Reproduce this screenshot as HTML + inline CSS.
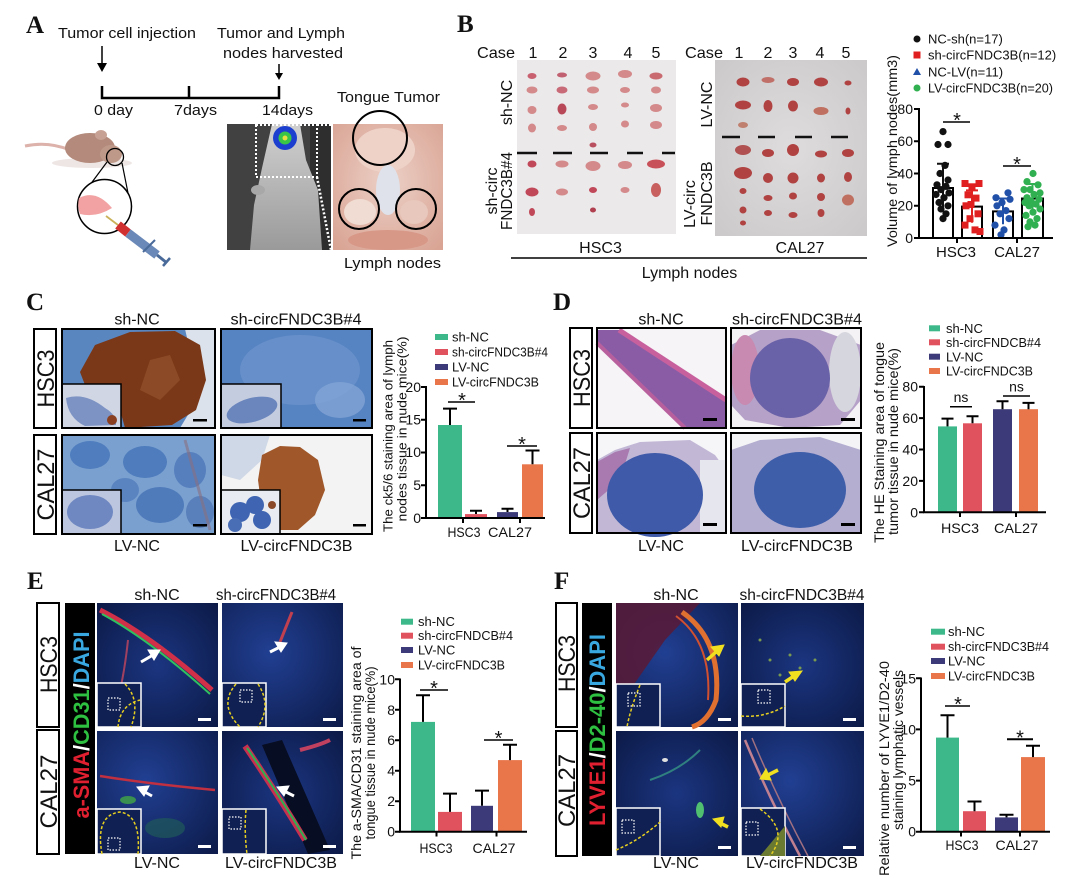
<!DOCTYPE html>
<html><head><meta charset="utf-8">
<style>
html,body{margin:0;padding:0;background:#fff;}
svg{display:block;}
text{font-family:"Liberation Sans",Arial,sans-serif;fill:#111;}
.pl{font-family:"Liberation Serif","Times New Roman",serif;font-weight:bold;font-size:25px;}
</style></head><body>
<svg width="1080" height="880" viewBox="0 0 1080 880" xmlns="http://www.w3.org/2000/svg">
<defs>
<radialGradient id="nv" cx="50%" cy="50%" r="75%"><stop offset="0" stop-color="#1b3580"/><stop offset="1" stop-color="#0b1843"/></radialGradient>
<radialGradient id="nv2" cx="40%" cy="40%" r="80%"><stop offset="0" stop-color="#213f92"/><stop offset="1" stop-color="#0d1c4c"/></radialGradient>
<linearGradient id="ivis" x1="0" y1="0" x2="0" y2="1"><stop offset="0" stop-color="#d0d0d0"/><stop offset="1" stop-color="#9a9a9a"/></linearGradient>
<radialGradient id="cal" cx="50%" cy="50%" r="70%"><stop offset="0" stop-color="#dedcdc"/><stop offset="1" stop-color="#cbc9c9"/></radialGradient>
<radialGradient id="dis" cx="50%" cy="45%" r="70%"><stop offset="0" stop-color="#ecd0c6"/><stop offset="1" stop-color="#d9a494"/></radialGradient>
</defs>

<!-- ================= A ================= -->
<text class="pl" x="26" y="33">A</text>
<text x="58" y="38" font-size="15" textLength="138" lengthAdjust="spacingAndGlyphs">Tumor cell injection</text>
<text x="217" y="38" font-size="15" textLength="128" lengthAdjust="spacingAndGlyphs">Tumor and Lymph</text>
<text x="223" y="58" font-size="15" textLength="120" lengthAdjust="spacingAndGlyphs">nodes harvested</text>
<line x1="102" y1="46" x2="102" y2="64" stroke="#000" stroke-width="1.5"/>
<polygon points="97,63 107,63 102,72" fill="#000"/>
<line x1="279" y1="64" x2="279" y2="74" stroke="#000" stroke-width="1.5"/>
<polygon points="275,73 283,73 279,80" fill="#000"/>
<path d="M102,86 V98 H279 V86 M189,98 V86" fill="none" stroke="#000" stroke-width="2.5"/>
<text x="94" y="115" font-size="15" textLength="39" lengthAdjust="spacingAndGlyphs">0 day</text>
<text x="174" y="115" font-size="15" textLength="43" lengthAdjust="spacingAndGlyphs">7days</text>
<text x="262" y="115" font-size="15" textLength="51" lengthAdjust="spacingAndGlyphs">14days</text>
<text x="337" y="102" font-size="15" textLength="103" lengthAdjust="spacingAndGlyphs">Tongue Tumor</text>
<text x="344" y="268" font-size="15" textLength="97" lengthAdjust="spacingAndGlyphs">Lymph nodes</text>

<!-- mouse -->
<ellipse cx="92" cy="163" rx="40" ry="5" fill="#eee6e4"/>
<path d="M70,150 Q48,141 25,146" fill="none" stroke="#dcb2aa" stroke-width="3"/>
<ellipse cx="90" cy="148" rx="25" ry="15" fill="#b38a7b"/>
<ellipse cx="111" cy="154" rx="11" ry="9" fill="#be9888"/>
<ellipse cx="101" cy="135" rx="6" ry="5" fill="#c7a294"/>
<circle cx="115" cy="157" r="8.5" fill="none" stroke="#000" stroke-width="1.3"/>
<line x1="107" y1="162" x2="81" y2="197" stroke="#000" stroke-width="1.2"/>
<line x1="122" y1="163" x2="129" y2="198" stroke="#000" stroke-width="1.2"/>
<circle cx="104.5" cy="206.5" r="27" fill="#fff" stroke="#000" stroke-width="1.5"/>
<path d="M79,198 Q96,189 112,208 Q96,218 80,214 Q77,206 79,198Z" fill="#f2a2a2"/>
<line x1="106" y1="216" x2="118" y2="225" stroke="#c9b25a" stroke-width="1.8"/>
<line x1="118" y1="225" x2="128" y2="233" stroke="#d03030" stroke-width="9"/>
<line x1="128" y1="233" x2="157" y2="255" stroke="#6a88b8" stroke-width="9"/>
<line x1="143" y1="252" x2="155" y2="240" stroke="#4a6a9a" stroke-width="2"/>
<line x1="157" y1="255" x2="167" y2="263" stroke="#4a6a9a" stroke-width="3"/>
<line x1="163" y1="266" x2="170" y2="258" stroke="#4a6a9a" stroke-width="2.5"/>

<!-- IVIS -->
<rect x="227" y="124" width="104" height="126" fill="#414141"/>
<rect x="310" y="124" width="21" height="126" fill="#2e2e2e"/>
<polygon points="272,124 300,124 306,160 318,190 322,250 250,250 254,205 262,168" fill="url(#ivis)"/>
<ellipse cx="258" cy="190" rx="7" ry="5" fill="#a8a8a8"/>
<circle cx="285" cy="138" r="12" fill="#1d3fd0"/>
<circle cx="285" cy="138" r="6.5" fill="#38c548"/>
<circle cx="285" cy="138" r="2.5" fill="#e8e040"/>
<rect x="256" y="125" width="61" height="52" fill="none" stroke="#fff" stroke-width="2" stroke-dasharray="2,2"/>
<line x1="317" y1="125" x2="332" y2="125" stroke="#fff" stroke-width="2" stroke-dasharray="2,2"/>
<line x1="317" y1="177" x2="331" y2="250" stroke="#fff" stroke-width="2.5" stroke-dasharray="2,2"/>

<!-- dissection -->
<rect x="333" y="124" width="110" height="126" fill="url(#dis)"/>
<ellipse cx="385" cy="150" rx="30" ry="22" fill="#eed2c8"/>
<ellipse cx="388" cy="190" rx="12" ry="25" fill="#dfe2ea"/>
<ellipse cx="360" cy="212" rx="16" ry="13" fill="#f0dcd2"/>
<ellipse cx="414" cy="212" rx="14" ry="12" fill="#e8c8bc"/>
<ellipse cx="388" cy="240" rx="40" ry="10" fill="#d89888"/>
<circle cx="380" cy="138" r="27" fill="none" stroke="#000" stroke-width="2"/>
<circle cx="359" cy="209" r="20" fill="none" stroke="#000" stroke-width="2"/>
<circle cx="416" cy="209" r="20" fill="none" stroke="#000" stroke-width="2"/>

<!-- ================= B ================= -->
<text class="pl" x="457" y="32">B</text>
<text x="477" y="58" font-size="16" textLength="38" lengthAdjust="spacingAndGlyphs">Case</text>
<g font-size="16" text-anchor="middle">
<text x="533" y="58">1</text><text x="563" y="58">2</text><text x="593" y="58">3</text><text x="628" y="58">4</text><text x="656" y="58">5</text>
<text x="739" y="58">1</text><text x="768" y="58">2</text><text x="793" y="58">3</text><text x="820" y="58">4</text><text x="846" y="58">5</text>
</g>
<text x="685" y="58" font-size="16" textLength="38" lengthAdjust="spacingAndGlyphs">Case</text>
<rect x="517" y="60" width="159" height="174" fill="#ebe9ea"/>
<rect x="715" y="60" width="152" height="176" fill="url(#cal)"/>
<g fill="#d4898a">
<ellipse cx="532" cy="76" rx="4.5" ry="3" fill="#c86070"/><ellipse cx="532" cy="90" rx="5.5" ry="3.5"/><ellipse cx="532" cy="110" rx="4.5" ry="4"/><ellipse cx="532" cy="128" rx="4" ry="4.5"/>
<ellipse cx="562" cy="75" rx="5" ry="2.5" fill="#c06070"/><ellipse cx="562" cy="90" rx="5.5" ry="3.5" fill="#c86a78"/><ellipse cx="562" cy="109" rx="4.5" ry="5.5" fill="#b84858"/><ellipse cx="562" cy="128" rx="5" ry="3"/>
<ellipse cx="593" cy="76" rx="7.5" ry="4.5"/><ellipse cx="593" cy="90" rx="6" ry="3.5"/><ellipse cx="593" cy="107" rx="5" ry="3"/><ellipse cx="593" cy="127" rx="4" ry="4"/><ellipse cx="593" cy="145" rx="3.5" ry="2.5" fill="#b85060"/>
<ellipse cx="625" cy="74" rx="7" ry="4"/><ellipse cx="625" cy="90" rx="5" ry="3"/><ellipse cx="625" cy="105" rx="4" ry="2.5"/><ellipse cx="625" cy="124" rx="4" ry="3.5"/>
<ellipse cx="656" cy="76" rx="6.5" ry="3.5" fill="#c86a70"/><ellipse cx="656" cy="90" rx="5" ry="3.5"/><ellipse cx="656" cy="108" rx="6" ry="4"/><ellipse cx="656" cy="125" rx="6" ry="4"/>
<ellipse cx="532" cy="164" rx="4.5" ry="3.5" fill="#c04858"/><ellipse cx="532" cy="192" rx="6.5" ry="4.5" fill="#c04858"/><ellipse cx="532" cy="212" rx="3" ry="4" fill="#c04858"/>
<ellipse cx="562" cy="164" rx="6.5" ry="3.5"/><ellipse cx="562" cy="192" rx="6" ry="3.5"/>
<ellipse cx="593" cy="166" rx="7.5" ry="5"/><ellipse cx="593" cy="190" rx="4" ry="3" fill="#c04858"/><ellipse cx="593" cy="210" rx="3" ry="2.5" fill="#b04050"/>
<ellipse cx="625" cy="165" rx="7" ry="4"/><ellipse cx="625" cy="190" rx="4.5" ry="3"/>
<ellipse cx="656" cy="164" rx="9" ry="4.5" fill="#c85058"/><ellipse cx="656" cy="190" rx="5" ry="7" fill="#c86060"/>
</g>
<g fill="#b04242">
<ellipse cx="743" cy="82" rx="6.5" ry="4.5"/><ellipse cx="743" cy="105" rx="8" ry="4.5"/><ellipse cx="743" cy="125" rx="5" ry="3" fill="#c08070"/>
<ellipse cx="768" cy="80" rx="6.5" ry="3" fill="#c07068"/><ellipse cx="768" cy="106" rx="4.5" ry="6"/>
<ellipse cx="793" cy="82" rx="6" ry="4"/><ellipse cx="793" cy="106" rx="5" ry="5.5"/>
<ellipse cx="821" cy="82" rx="7" ry="4.5"/><ellipse cx="821" cy="111" rx="7.5" ry="4" fill="#c07060"/>
<ellipse cx="848" cy="83" rx="3.5" ry="2.5"/><ellipse cx="848" cy="111" rx="2.5" ry="3.5"/>
<ellipse cx="743" cy="150" rx="8" ry="5" fill="#b05050"/><ellipse cx="743" cy="173" rx="9" ry="6"/><ellipse cx="743" cy="191" rx="3.5" ry="3"/><ellipse cx="743" cy="210" rx="3.5" ry="3.5"/><ellipse cx="743" cy="223" rx="3" ry="2.5"/>
<ellipse cx="768" cy="153" rx="6" ry="4"/><ellipse cx="768" cy="178" rx="5" ry="5"/><ellipse cx="768" cy="198" rx="4.5" ry="3"/><ellipse cx="768" cy="213" rx="4" ry="3"/>
<ellipse cx="793" cy="150" rx="6" ry="6"/><ellipse cx="793" cy="178" rx="5.5" ry="5.5"/><ellipse cx="793" cy="196" rx="4" ry="3.5"/><ellipse cx="793" cy="215" rx="4.5" ry="3"/>
<ellipse cx="821" cy="154" rx="6" ry="3.5"/><ellipse cx="821" cy="178" rx="4" ry="4.5"/><ellipse cx="821" cy="197" rx="4" ry="4"/><ellipse cx="821" cy="213" rx="3.5" ry="4"/>
<ellipse cx="848" cy="153" rx="6" ry="4"/><ellipse cx="848" cy="177" rx="4" ry="5"/><ellipse cx="848" cy="200" rx="6" ry="5.5" fill="#c07060"/>
</g>
<g stroke="#111" stroke-width="2.5">
<line x1="517" y1="153" x2="537" y2="153"/><line x1="553" y1="153" x2="572" y2="153"/><line x1="590" y1="153" x2="608" y2="153"/><line x1="627" y1="153" x2="643" y2="153"/><line x1="662" y1="153" x2="675" y2="153"/>
<line x1="722" y1="137" x2="740" y2="137"/><line x1="758" y1="137" x2="775" y2="137"/><line x1="795" y1="137" x2="812" y2="137"/><line x1="831" y1="137" x2="848" y2="137"/>
</g>
<g font-size="16" text-anchor="middle">
<text transform="translate(512,102.5) rotate(-90)">sh-NC</text>
<text transform="translate(497,191) rotate(-90)">sh-circ</text>
<text transform="translate(512,191) rotate(-90)" textLength="78" lengthAdjust="spacingAndGlyphs">FNDC3B#4</text>
<text transform="translate(712,104.5) rotate(-90)">LV-NC</text>
<text transform="translate(695,204) rotate(-90)">LV-circ</text>
<text transform="translate(712,193.5) rotate(-90)">FNDC3B</text>
<text x="600.5" y="253">HSC3</text>
<text x="800" y="253">CAL27</text>
<text x="689.5" y="278">Lymph nodes</text>
</g>
<line x1="511" y1="258" x2="867" y2="258" stroke="#000" stroke-width="1.5"/>

<!-- B chart -->
<g font-size="13">
<circle cx="917" cy="39" r="3.5" fill="#111"/><text x="928" y="43.5">NC-sh(n=17)</text>
<rect x="913.5" y="51.5" width="7" height="7" fill="#e02020"/><text x="928" y="59.5">sh-circFNDC3B(n=12)</text>
<polygon points="917,68 921,75 913,75" fill="#2050a8"/><text x="928" y="76.5">NC-LV(n=11)</text>
<circle cx="917" cy="88" r="3.5" fill="#30b050"/><text x="928" y="92.5" textLength="125" lengthAdjust="spacingAndGlyphs">LV-circFNDC3B(n=20)</text>
</g>
<text transform="translate(897,151) rotate(-90)" font-size="14" text-anchor="middle" textLength="192" lengthAdjust="spacingAndGlyphs">Volume of lymph nodes(mm3)</text>
<g font-size="14" text-anchor="end">
<text x="913" y="114">80</text><text x="913" y="146">60</text><text x="913" y="178.5">40</text><text x="913" y="210.5">20</text><text x="913" y="243">0</text>
</g>
<g fill="#fff" stroke="#000" stroke-width="2">
<rect x="933" y="188" width="20" height="50"/>
<rect x="962" y="206.6" width="20" height="31.4"/>
<rect x="993" y="211.4" width="20" height="26.6"/>
<rect x="1022" y="198.5" width="21" height="39.5"/>
</g>
<g fill="#111">
<circle cx="943" cy="131.6" r="3.6"/><circle cx="938" cy="144.5" r="3.6"/><circle cx="948" cy="144.5" r="3.6"/><circle cx="945" cy="165.4" r="3.6"/><circle cx="940" cy="173.5" r="3.6"/><circle cx="948" cy="180" r="3.6"/><circle cx="937" cy="184.8" r="3.6"/><circle cx="946" cy="186.4" r="3.6"/><circle cx="941" cy="189.6" r="3.6"/><circle cx="949" cy="192.9" r="3.6"/><circle cx="936" cy="194.5" r="3.6"/><circle cx="944" cy="197.7" r="3.6"/><circle cx="939" cy="202.5" r="3.6"/><circle cx="948" cy="205.8" r="3.6"/><circle cx="941" cy="209" r="3.6"/><circle cx="946" cy="213.8" r="3.6"/><circle cx="943" cy="218.6" r="3.6"/>
</g>
<g fill="#e02020">
<rect x="961.5" y="180" width="7" height="7"/><rect x="975.5" y="180" width="7" height="7"/><rect x="968.5" y="183.3" width="7" height="7"/><rect x="964.5" y="191.3" width="7" height="7"/><rect x="972.5" y="194.6" width="7" height="7"/><rect x="967.5" y="201" width="7" height="7"/><rect x="962.5" y="202.3" width="7" height="7"/><rect x="974.5" y="210.3" width="7" height="7"/><rect x="966.5" y="215.2" width="7" height="7"/><rect x="961.5" y="221.6" width="7" height="7"/><rect x="971.5" y="226.4" width="7" height="7"/><rect x="976.5" y="228" width="7" height="7"/>
</g>
<g fill="#2050a8">
<circle cx="1008" cy="192.8" r="3.6"/><circle cx="996" cy="197.7" r="3.6"/><circle cx="1010" cy="199.3" r="3.6"/><circle cx="1002" cy="202.5" r="3.6"/><circle cx="997" cy="205.8" r="3.6"/><circle cx="1006" cy="210.6" r="3.6"/><circle cx="1000" cy="213.8" r="3.6"/><circle cx="1009" cy="218.6" r="3.6"/><circle cx="995" cy="225.1" r="3.6"/><circle cx="1004" cy="229.9" r="3.6"/><circle cx="1001" cy="234.8" r="3.6"/>
</g>
<g fill="#30b050">
<circle cx="1033" cy="173.5" r="3.6"/><circle cx="1027" cy="181.6" r="3.6"/><circle cx="1038" cy="184.8" r="3.6"/><circle cx="1030" cy="189.6" r="3.6"/><circle cx="1024" cy="189.6" r="3.6"/><circle cx="1040" cy="192.9" r="3.6"/><circle cx="1034" cy="194.5" r="3.6"/><circle cx="1027" cy="197.7" r="3.6"/><circle cx="1039" cy="199.3" r="3.6"/><circle cx="1031" cy="200.9" r="3.6"/><circle cx="1025" cy="202.5" r="3.6"/><circle cx="1036" cy="204.1" r="3.6"/><circle cx="1029" cy="205.8" r="3.6"/><circle cx="1040" cy="209" r="3.6"/><circle cx="1033" cy="212.2" r="3.6"/><circle cx="1026" cy="215.4" r="3.6"/><circle cx="1037" cy="218.6" r="3.6"/><circle cx="1030" cy="221.9" r="3.6"/><circle cx="1035" cy="225.1" r="3.6"/><circle cx="1028" cy="226.7" r="3.6"/>
</g>
<g stroke-width="2" fill="none">
<path d="M943,163.8 V212.2 M937,163.8 H949" stroke="#111"/>
<path d="M972,190.4 V222.7 M966,190.4 H978" stroke="#e02020"/>
<path d="M1003,198.5 V224.3 M997,198.5 H1009" stroke="#2050a8"/>
<path d="M1032.5,184 V213 M1026.5,184 H1038.5" stroke="#30b050"/>
</g>
<g stroke="#000" stroke-width="2">
<line x1="919" y1="108" x2="919" y2="239"/><line x1="918" y1="238" x2="1053" y2="238"/>
<line x1="914" y1="109" x2="919" y2="109"/><line x1="914" y1="141.25" x2="919" y2="141.25"/><line x1="914" y1="173.5" x2="919" y2="173.5"/><line x1="914" y1="205.75" x2="919" y2="205.75"/><line x1="914" y1="238" x2="919" y2="238"/>
<line x1="957" y1="238" x2="957" y2="243"/><line x1="1017" y1="238" x2="1017" y2="243"/>
<line x1="943" y1="122" x2="970" y2="122" stroke-width="1.5"/><line x1="1003" y1="166" x2="1031" y2="166" stroke-width="1.5"/>
</g>
<g font-size="20" text-anchor="middle"><text x="957" y="127">*</text><text x="1017" y="171">*</text></g>
<g font-size="15" text-anchor="middle"><text x="956" y="257">HSC3</text><text x="1017" y="257">CAL27</text></g>

<!-- ================= C ================= -->
<text class="pl" x="26" y="310">C</text>
<g font-size="16" text-anchor="middle">
<text x="137" y="324.5">sh-NC</text>
<text x="296" y="324.5" textLength="131" lengthAdjust="spacingAndGlyphs">sh-circFNDC3B#4</text>
<text x="137" y="551">LV-NC</text>
<text x="296.5" y="551" textLength="112" lengthAdjust="spacingAndGlyphs">LV-circFNDC3B</text>
</g>
<rect x="34" y="329" width="22" height="99" fill="#fff" stroke="#000" stroke-width="2"/>
<rect x="34" y="435" width="22" height="99" fill="#fff" stroke="#000" stroke-width="2"/>
<text transform="translate(54,378.5) rotate(-90)" font-size="24" text-anchor="middle" textLength="58" lengthAdjust="spacingAndGlyphs">HSC3</text>
<text transform="translate(54,484.5) rotate(-90)" font-size="24" text-anchor="middle" textLength="72" lengthAdjust="spacingAndGlyphs">CAL27</text>
<!-- C1 -->
<rect x="62" y="329" width="153" height="99" fill="#5a86c0"/>
<polygon points="185,329 215,329 215,428 180,428 200,395" fill="#dbe2eb"/>
<polygon points="80,372 95,345 130,332 175,331 200,345 206,380 196,410 172,425 125,428 120,410 100,395 85,385" fill="#7a3818"/>
<polygon points="150,360 170,355 180,380 160,400 140,390" fill="#8c4a26"/>
<rect x="62" y="384" width="59" height="44" fill="#d0d6e4" stroke="#000" stroke-width="1.5"/>
<path d="M66,398 Q85,392 105,408 Q117,415 116,425 L85,426 Q68,418 66,398Z" fill="#7d93c4"/>
<circle cx="112" cy="420" r="5" fill="#8a4020"/>
<rect x="193" y="419" width="14" height="2.5" fill="#000"/>
<!-- C2 -->
<rect x="221" y="329" width="151" height="99" fill="#5683c2"/>
<ellipse cx="300" cy="370" rx="60" ry="35" fill="#6c93cc" opacity="0.8"/>
<ellipse cx="340" cy="400" rx="25" ry="18" fill="#82a4d4" opacity="0.8"/>
<rect x="221" y="384" width="60" height="44" fill="#c4cce0" stroke="#000" stroke-width="1.5"/>
<ellipse cx="252" cy="410" rx="26" ry="12" transform="rotate(-15 252 410)" fill="#6b86bd"/>
<rect x="353" y="419" width="13" height="2.5" fill="#000"/>
<!-- C3 -->
<rect x="62" y="435" width="153" height="99" fill="#7aa0d0"/>
<ellipse cx="90" cy="455" rx="20" ry="14" fill="#4f7dbd"/><ellipse cx="145" cy="462" rx="22" ry="16" fill="#4e7cbc"/><ellipse cx="190" cy="470" rx="16" ry="18" fill="#557fbd"/>
<ellipse cx="160" cy="505" rx="24" ry="18" fill="#4f7bba"/><ellipse cx="200" cy="512" rx="14" ry="16" fill="#5a80bc"/><ellipse cx="125" cy="490" rx="14" ry="12" fill="#5a84c0"/>
<line x1="185" y1="440" x2="210" y2="530" stroke="#8a7080" stroke-width="3" opacity="0.6"/>
<rect x="62" y="490" width="59" height="44" fill="#bcc6de" stroke="#000" stroke-width="1.5"/>
<ellipse cx="90" cy="512" rx="23" ry="17" fill="#6f88c2"/>
<rect x="193" y="524" width="14" height="2.5" fill="#000"/>
<!-- C4 -->
<rect x="221" y="435" width="151" height="99" fill="#f3f3f3"/>
<polygon points="221,435 270,435 262,460 240,480 221,475" fill="#cfd8e6"/>
<polygon points="262,455 280,446 300,447 318,460 325,490 315,515 298,530 275,530 262,510 258,480" fill="#a0582a"/>
<rect x="221" y="490" width="59" height="44" fill="#e8ecf2" stroke="#000" stroke-width="1.5"/>
<circle cx="240" cy="512" r="10" fill="#3e64b2"/><circle cx="255" cy="505" r="9" fill="#3e64b2"/><circle cx="262" cy="520" r="9" fill="#3e64b2"/><circle cx="235" cy="525" r="7" fill="#4a6eb6"/><circle cx="272" cy="505" r="4" fill="#8a4a2a"/>
<rect x="353" y="524" width="13" height="2.5" fill="#000"/>
<g fill="none" stroke="#000" stroke-width="2">
<rect x="62" y="329" width="153" height="99"/><rect x="221" y="329" width="151" height="99"/>
<rect x="62" y="435" width="153" height="99"/><rect x="221" y="435" width="151" height="99"/>
</g>
<!-- C chart -->
<g font-size="13">
<rect x="435" y="334" width="13" height="6" fill="#3cb88a"/><text x="452" y="341.5">sh-NC</text>
<rect x="435" y="349" width="13" height="6" fill="#e0525e"/><text x="452" y="356.5" textLength="96" lengthAdjust="spacingAndGlyphs">sh-circFNDC3B#4</text>
<rect x="435" y="364" width="13" height="6" fill="#3c3a78"/><text x="452" y="371.5">LV-NC</text>
<rect x="435" y="379" width="13" height="6" fill="#e8764a"/><text x="452" y="386.5" textLength="87" lengthAdjust="spacingAndGlyphs">LV-circFNDC3B</text>
</g>
<g font-size="13" text-anchor="middle">
<text transform="translate(392.5,436) rotate(-90)" textLength="192" lengthAdjust="spacingAndGlyphs">The ck5/6 staining area of lymph</text>
<text transform="translate(406.5,429) rotate(-90)" textLength="185" lengthAdjust="spacingAndGlyphs">nodes tissue in nude mice(%)</text>
</g>
<g font-size="14" text-anchor="end">
<text x="421" y="392">20</text><text x="421" y="424.5">15</text><text x="421" y="457">10</text><text x="421" y="490">5</text><text x="421" y="523">0</text>
</g>
<rect x="438" y="425" width="24" height="93" fill="#3cb88a"/>
<rect x="465" y="514.1" width="22" height="3.9" fill="#e0525e"/>
<rect x="497" y="512.1" width="21" height="5.9" fill="#3c3a78"/>
<rect x="522" y="464.3" width="21" height="53.7" fill="#e8764a"/>
<g stroke="#000" stroke-width="2" fill="none">
<path d="M450,425 V408.6 M443,408.6 H457"/>
<path d="M476,514 V510.8 M470,510.8 H482"/>
<path d="M507.5,512 V508.8 M501.5,508.8 H513.5"/>
<path d="M532.5,464.3 V450.5 M525.5,450.5 H539.5"/>
<line x1="426" y1="386" x2="426" y2="519"/><line x1="425" y1="518" x2="545" y2="518"/>
<path d="M421,387 H426 M421,419.75 H426 M421,452.5 H426 M421,485.25 H426 M421,518 H426 M463,518 V523 M520,518 V523"/>
<line x1="448" y1="402" x2="475" y2="402" stroke-width="1.5"/><line x1="507" y1="446" x2="537" y2="446" stroke-width="1.5"/>
</g>
<g font-size="20" text-anchor="middle"><text x="462" y="407">*</text><text x="522" y="451">*</text></g>
<g font-size="14" text-anchor="middle"><text x="464" y="537" textLength="33" lengthAdjust="spacingAndGlyphs">HSC3</text><text x="510" y="537" textLength="44" lengthAdjust="spacingAndGlyphs">CAL27</text></g>

<!-- ================= D ================= -->
<text class="pl" x="553" y="310">D</text>
<g font-size="16" text-anchor="middle">
<text x="661" y="324.5">sh-NC</text>
<text x="797" y="324.5" textLength="130" lengthAdjust="spacingAndGlyphs">sh-circFNDC3B#4</text>
<text x="661" y="551">LV-NC</text>
<text x="797" y="551" textLength="112" lengthAdjust="spacingAndGlyphs">LV-circFNDC3B</text>
</g>
<rect x="570" y="328" width="22" height="100" fill="#fff" stroke="#000" stroke-width="2"/>
<rect x="570" y="433" width="22" height="100" fill="#fff" stroke="#000" stroke-width="2"/>
<text transform="translate(590,378) rotate(-90)" font-size="24" text-anchor="middle" textLength="58" lengthAdjust="spacingAndGlyphs">HSC3</text>
<text transform="translate(590,483) rotate(-90)" font-size="24" text-anchor="middle" textLength="72" lengthAdjust="spacingAndGlyphs">CAL27</text>
<!-- D1 -->
<rect x="597" y="328" width="129" height="100" fill="#f6f4f6"/>
<polygon points="597,330 619,330 726,400 726,428 685,428 597,343" fill="#8a5ca6"/>
<path d="M619,330 L726,400" stroke="#c8609e" stroke-width="5"/>
<path d="M597,343 L685,428" stroke="#b8609e" stroke-width="4"/>
<rect x="703" y="418" width="14" height="3" fill="#000"/>
<!-- D2 -->
<rect x="731" y="328" width="130" height="100" fill="#f4f2f4"/>
<polygon points="731,345 760,330 820,330 861,345 861,400 840,425 790,428 745,420 731,405" fill="#b6a2c8"/>
<ellipse cx="745" cy="370" rx="14" ry="35" fill="#c88ab0"/>
<ellipse cx="845" cy="372" rx="16" ry="40" fill="#d6d6de"/>
<ellipse cx="790" cy="378" rx="40" ry="40" fill="#6a62a8"/>
<rect x="841" y="418" width="14" height="3" fill="#000"/>
<!-- D3 -->
<rect x="597" y="433" width="129" height="100" fill="#f6f6f8"/>
<polygon points="597,460 615,450 640,442 690,440 715,455 726,470 726,533 597,533" fill="#c2b8d6"/>
<rect x="700" y="460" width="26" height="73" fill="#e6e6ee"/>
<polygon points="597,462 615,452 630,448 620,480 597,500" fill="#a87ab0"/>
<ellipse cx="655" cy="495" rx="48" ry="42" fill="#3e5aa8"/>
<rect x="703" y="523" width="14" height="3" fill="#000"/>
<!-- D4 -->
<rect x="731" y="433" width="130" height="100" fill="#f4f4f6"/>
<polygon points="731,450 760,440 820,437 861,450 861,533 731,533" fill="#b4aed0"/>
<ellipse cx="800" cy="490" rx="46" ry="38" fill="#3f5eaa"/>
<rect x="841" y="523" width="14" height="3" fill="#000"/>
<g fill="none" stroke="#000" stroke-width="2">
<rect x="597" y="328" width="129" height="100"/><rect x="731" y="328" width="130" height="100"/>
<rect x="597" y="433" width="129" height="100"/><rect x="731" y="433" width="130" height="100"/>
</g>
<!-- D chart -->
<g font-size="13">
<rect x="929" y="325.3" width="11" height="6" fill="#3cb88a"/><text x="946" y="333">sh-NC</text>
<rect x="929" y="339.3" width="11" height="6" fill="#e0525e"/><text x="946" y="347" textLength="95" lengthAdjust="spacingAndGlyphs">sh-circFNDCB#4</text>
<rect x="929" y="353.7" width="11" height="6" fill="#3c3a78"/><text x="946" y="361.4">LV-NC</text>
<rect x="929" y="368" width="11" height="6" fill="#e8764a"/><text x="946" y="375.7" textLength="87" lengthAdjust="spacingAndGlyphs">LV-circFNDC3B</text>
</g>
<g font-size="14" text-anchor="middle">
<text transform="translate(884,442.5) rotate(-90)" textLength="201" lengthAdjust="spacingAndGlyphs">The HE Staining area of tongue</text>
<text transform="translate(898,441.5) rotate(-90)" textLength="187" lengthAdjust="spacingAndGlyphs">tumor tissue in nude mice(%)</text>
</g>
<g font-size="14" text-anchor="end">
<text x="918" y="391.7">80</text><text x="918" y="423.1">60</text><text x="918" y="454.5">40</text><text x="918" y="485.9">20</text><text x="918" y="517.3">0</text>
</g>
<rect x="938" y="426.4" width="19" height="85.9" fill="#3cb88a"/>
<rect x="963" y="423.3" width="19" height="89" fill="#e0525e"/>
<rect x="993" y="409.2" width="19" height="103.1" fill="#3c3a78"/>
<rect x="1019" y="409.2" width="19" height="103.1" fill="#e8764a"/>
<g stroke="#000" stroke-width="2" fill="none">
<path d="M947.5,426.4 V418.6 M941.5,418.6 H953.5"/>
<path d="M972.5,423.3 V416.2 M966.5,416.2 H978.5"/>
<path d="M1002.5,409.2 V401.3 M996.5,401.3 H1008.5"/>
<path d="M1028.5,409.2 V402.9 M1022.5,402.9 H1034.5"/>
<line x1="924" y1="386" x2="924" y2="513"/><line x1="923" y1="512.3" x2="1046" y2="512.3"/>
<path d="M919,386.7 H924 M919,418.1 H924 M919,449.5 H924 M919,480.9 H924 M919,512.3 H924 M960,512.3 V517 M1016,512.3 V517"/>
<line x1="950" y1="406.7" x2="972" y2="406.7" stroke-width="1.5"/><line x1="1003" y1="396" x2="1030" y2="396" stroke-width="1.5"/>
</g>
<g font-size="14" text-anchor="middle"><text x="961" y="402">ns</text><text x="1016.5" y="391.5">ns</text></g>
<g font-size="14" text-anchor="middle"><text x="960" y="533" textLength="38" lengthAdjust="spacingAndGlyphs">HSC3</text><text x="1016" y="533" textLength="44" lengthAdjust="spacingAndGlyphs">CAL27</text></g>

<!-- ================= E ================= -->
<text class="pl" x="27" y="589">E</text>
<g font-size="16" text-anchor="middle">
<text x="157" y="600">sh-NC</text>
<text x="276" y="600" textLength="120" lengthAdjust="spacingAndGlyphs">sh-circFNDC3B#4</text>
<text x="157" y="868">LV-NC</text>
<text x="281" y="868" textLength="112" lengthAdjust="spacingAndGlyphs">LV-circFNDC3B</text>
</g>
<rect x="37" y="603" width="22" height="124" fill="#fff" stroke="#000" stroke-width="2"/>
<rect x="37" y="730" width="22" height="124" fill="#fff" stroke="#000" stroke-width="2"/>
<text transform="translate(57,664.5) rotate(-90)" font-size="24" text-anchor="middle" textLength="57" lengthAdjust="spacingAndGlyphs">HSC3</text>
<text transform="translate(57,791.5) rotate(-90)" font-size="24" text-anchor="middle" textLength="74" lengthAdjust="spacingAndGlyphs">CAL27</text>
<rect x="65" y="603" width="30" height="251" fill="#000"/>
<text transform="translate(89,725) rotate(-90)" font-size="22" font-weight="bold" text-anchor="middle" textLength="187" lengthAdjust="spacingAndGlyphs"><tspan fill="#e02030">a-SMA</tspan><tspan fill="#fff">/</tspan><tspan fill="#2ec040">CD31</tspan><tspan fill="#fff">/</tspan><tspan fill="#3aa8e0">DAPI</tspan></text>
<!-- E images -->
<rect x="97" y="603" width="121" height="124" fill="url(#nv)"/>
<rect x="222" y="603" width="121" height="124" fill="url(#nv2)"/>
<rect x="97" y="731" width="121" height="123" fill="url(#nv2)"/>
<rect x="222" y="731" width="121" height="123" fill="url(#nv)"/>
<polygon points="262,745 282,740 330,850 308,854" fill="#070d22"/>
<path d="M100,610 Q150,635 212,690" fill="none" stroke="#d03048" stroke-width="5"/>
<path d="M102,614 Q150,640 210,694" fill="none" stroke="#30c060" stroke-width="2"/>
<path d="M128,640 Q125,670 118,700" fill="none" stroke="#a04060" stroke-width="2"/>
<path d="M280,642 L292,612" fill="none" stroke="#c04050" stroke-width="3"/>
<path d="M100,776 Q150,784 215,790" fill="none" stroke="#c03040" stroke-width="2.5"/>
<ellipse cx="128" cy="800" rx="8" ry="4" fill="#3a9050"/>
<ellipse cx="165" cy="828" rx="20" ry="10" fill="#1f5a5a" opacity="0.7"/>
<path d="M245,746 Q275,790 305,840" fill="none" stroke="#c83050" stroke-width="6"/>
<path d="M247,748 Q277,792 306,840" fill="none" stroke="#30b050" stroke-width="2"/>
<path d="M300,750 Q320,745 330,740" fill="none" stroke="#c04060" stroke-width="4"/>
<g stroke="#fff" stroke-width="3" fill="#fff">
<line x1="141" y1="662" x2="153" y2="655"/><polygon points="160,650 148,650 154,660" stroke-width="1"/>
<line x1="270" y1="652" x2="280" y2="647"/><polygon points="287,643 275,642 281,652" stroke-width="1"/>
<line x1="152" y1="796" x2="143" y2="791"/><polygon points="137,787 149,786 144,796" stroke-width="1"/>
<line x1="294" y1="796" x2="284" y2="791"/><polygon points="277,787 289,786 284,796" stroke-width="1"/>
</g>
<g fill="#fff"><rect x="198" y="718" width="13" height="3"/><rect x="323" y="718" width="13" height="3"/><rect x="198" y="845" width="13" height="3"/><rect x="323" y="845" width="13" height="3"/></g>
<g stroke="#fff" stroke-width="1.5" fill="#102052">
<rect x="97" y="683" width="44" height="44"/><rect x="222" y="683" width="44" height="44"/>
<rect x="97" y="809" width="44" height="45"/><rect x="222" y="809" width="44" height="45"/>
</g>
<g fill="none" stroke="#e8d020" stroke-width="1.5" stroke-dasharray="3,2">
<path d="M125,684 Q141,700 131,727"/><path d="M118,727 Q120,705 140,700"/>
<path d="M236,684 Q218,705 240,727"/><path d="M258,684 Q272,705 258,727"/>
<path d="M102,854 Q95,815 120,812 Q141,815 138,854"/>
<path d="M246,810 Q244,830 247,854"/>
</g>
<g fill="none" stroke="#fff" stroke-width="1.2" stroke-dasharray="1.5,1.5">
<rect x="108" y="698" width="12" height="12"/><rect x="240" y="690" width="12" height="12"/>
<rect x="108" y="838" width="12" height="12"/><rect x="229" y="817" width="12" height="12"/>
</g>
<!-- E chart -->
<g font-size="13">
<rect x="401" y="618.7" width="12" height="6" fill="#3cb88a"/><text x="418" y="626.2">sh-NC</text>
<rect x="401" y="632.7" width="12" height="6" fill="#e0525e"/><text x="418" y="640.2" textLength="95" lengthAdjust="spacingAndGlyphs">sh-circFNDCB#4</text>
<rect x="401" y="647" width="12" height="6" fill="#3c3a78"/><text x="418" y="654.5">LV-NC</text>
<rect x="401" y="662" width="12" height="6" fill="#e8764a"/><text x="418" y="669.5" textLength="87" lengthAdjust="spacingAndGlyphs">LV-circFNDC3B</text>
</g>
<g font-size="14" text-anchor="middle">
<text transform="translate(361,753) rotate(-90)" textLength="213" lengthAdjust="spacingAndGlyphs">The a-SMA/CD31 staining area of</text>
<text transform="translate(375,753) rotate(-90)" textLength="173" lengthAdjust="spacingAndGlyphs">tongue tissue in nude mice(%)</text>
</g>
<g font-size="14" text-anchor="end">
<text x="395" y="684.3">10</text><text x="395" y="714.8">8</text><text x="395" y="745.2">6</text><text x="395" y="775.7">4</text><text x="395" y="806.2">2</text><text x="395" y="836.7">0</text>
</g>
<rect x="411" y="721.9" width="24" height="109.8" fill="#3cb88a"/>
<rect x="438" y="811.9" width="24" height="19.8" fill="#e0525e"/>
<rect x="471" y="805.8" width="22" height="25.9" fill="#3c3a78"/>
<rect x="498" y="760.1" width="24" height="71.6" fill="#e8764a"/>
<g stroke="#000" stroke-width="2" fill="none">
<path d="M423,721.9 V695.3 M416,695.3 H430"/>
<path d="M450,811.9 V793.6 M443,793.6 H457"/>
<path d="M482,805.8 V790.6 M475,790.6 H489"/>
<path d="M510,760.1 V744.8 M503,744.8 H517"/>
<line x1="400" y1="678.5" x2="400" y2="832.5"/><line x1="399" y1="831.7" x2="527" y2="831.7"/>
<path d="M395,679.3 H400 M395,709.8 H400 M395,740.2 H400 M395,770.7 H400 M395,801.2 H400 M395,831.7 H400 M436.5,831.7 V836.5 M496.5,831.7 V836.5"/>
<line x1="420" y1="690" x2="448" y2="690" stroke-width="1.5"/><line x1="484" y1="740" x2="513" y2="740" stroke-width="1.5"/>
</g>
<g font-size="20" text-anchor="middle"><text x="434" y="695">*</text><text x="498.5" y="745">*</text></g>
<g font-size="14" text-anchor="middle"><text x="436" y="853" textLength="33" lengthAdjust="spacingAndGlyphs">HSC3</text><text x="494" y="853" textLength="43" lengthAdjust="spacingAndGlyphs">CAL27</text></g>

<!-- ================= F ================= -->
<text class="pl" x="554" y="589">F</text>
<g font-size="16" text-anchor="middle">
<text x="676" y="600">sh-NC</text>
<text x="802" y="600" textLength="125" lengthAdjust="spacingAndGlyphs">sh-circFNDC3B#4</text>
<text x="676" y="868">LV-NC</text>
<text x="802" y="868" textLength="112" lengthAdjust="spacingAndGlyphs">LV-circFNDC3B</text>
</g>
<rect x="556" y="603" width="21" height="124" fill="#fff" stroke="#000" stroke-width="2"/>
<rect x="556" y="731" width="21" height="125" fill="#fff" stroke="#000" stroke-width="2"/>
<text transform="translate(575,663.5) rotate(-90)" font-size="24" text-anchor="middle" textLength="57" lengthAdjust="spacingAndGlyphs">HSC3</text>
<text transform="translate(575,790.5) rotate(-90)" font-size="24" text-anchor="middle" textLength="73" lengthAdjust="spacingAndGlyphs">CAL27</text>
<rect x="582" y="603" width="30" height="253" fill="#000"/>
<text transform="translate(605,730) rotate(-90)" font-size="22" font-weight="bold" text-anchor="middle" textLength="192" lengthAdjust="spacingAndGlyphs"><tspan fill="#e02030">LYVE1</tspan><tspan fill="#fff">/</tspan><tspan fill="#2ec040">D2-40</tspan><tspan fill="#fff">/</tspan><tspan fill="#3aa8e0">DAPI</tspan></text>
<rect x="616" y="603" width="122" height="124" fill="url(#nv2)"/>
<rect x="741" y="603" width="123" height="124" fill="url(#nv)"/>
<rect x="616" y="731" width="122" height="125" fill="url(#nv)"/>
<rect x="741" y="731" width="123" height="125" fill="url(#nv2)"/>
<polygon points="616,603 700,603 665,640 630,690 616,705" fill="#5a1a36" opacity="0.85"/>
<path d="M682,612 Q722,640 716,700 Q708,722 692,727" fill="none" stroke="#e07030" stroke-width="5"/>
<path d="M676,616 Q712,642 708,700" fill="none" stroke="#d05030" stroke-width="2"/>
<g fill="#7a9a50"><circle cx="770" cy="660" r="1.5"/><circle cx="790" cy="655" r="1.5"/><circle cx="800" cy="668" r="1.5"/><circle cx="780" cy="675" r="1.5"/><circle cx="815" cy="660" r="1.5"/><circle cx="760" cy="640" r="1.5"/></g>
<ellipse cx="700" cy="810" rx="4" ry="8" fill="#50c070"/><ellipse cx="665" cy="760" rx="3" ry="2" fill="#e0e0e0"/>
<path d="M650,780 Q680,770 700,750" fill="none" stroke="#308080" stroke-width="2"/>
<path d="M745,740 Q770,800 800,856" fill="none" stroke="#c08090" stroke-width="2.5"/>
<path d="M752,738 Q778,800 808,856" fill="none" stroke="#a07080" stroke-width="1.5"/>
<g stroke="#f0e020" stroke-width="3.5" fill="#f0e020">
<line x1="707" y1="660" x2="716" y2="652"/><polygon points="724,645 711,647 719,656" stroke-width="1"/>
<line x1="785" y1="682" x2="794" y2="676"/><polygon points="802,671 789,672 795,681" stroke-width="1"/>
<line x1="728" y1="827" x2="720" y2="823"/><polygon points="713,819 724,817 721,827" stroke-width="1"/>
<line x1="778" y1="770" x2="768" y2="775"/><polygon points="760,779 766,769 771,780" stroke-width="1"/>
</g>
<g fill="#fff"><rect x="718" y="718" width="13" height="3"/><rect x="843" y="718" width="13" height="3"/><rect x="718" y="846" width="13" height="3"/><rect x="843" y="846" width="13" height="3"/></g>
<g stroke="#fff" stroke-width="1.5" fill="#102052">
<rect x="616" y="684" width="44" height="43"/><rect x="741" y="684" width="44" height="43"/>
<rect x="616" y="808" width="44" height="48"/><rect x="741" y="808" width="44" height="48"/>
</g>
<polygon points="760,856 785,826 785,856" fill="#6a7a30"/>
<g fill="none" stroke="#e8d020" stroke-width="1.5" stroke-dasharray="3,2">
<path d="M640,685 Q630,710 627,727"/><path d="M741,716 Q765,718 785,706"/>
<path d="M616,850 Q640,840 660,822"/><path d="M760,809 Q790,830 770,856"/>
</g>
<g fill="none" stroke="#fff" stroke-width="1.2" stroke-dasharray="1.5,1.5">
<rect x="628" y="693" width="12" height="13"/><rect x="758" y="690" width="12" height="13"/>
<rect x="622" y="820" width="12" height="13"/><rect x="746" y="822" width="12" height="13"/>
</g>
<!-- F chart -->
<g font-size="13">
<rect x="931" y="628.7" width="14" height="6" fill="#3cb88a"/><text x="948" y="636.2">sh-NC</text>
<rect x="931" y="643.7" width="14" height="6" fill="#e0525e"/><text x="948" y="651.2" textLength="101" lengthAdjust="spacingAndGlyphs">sh-circFNDC3B#4</text>
<rect x="931" y="658" width="14" height="6" fill="#3c3a78"/><text x="948" y="665.5">LV-NC</text>
<rect x="931" y="673" width="14" height="6" fill="#e8764a"/><text x="948" y="680.5" textLength="87" lengthAdjust="spacingAndGlyphs">LV-circFNDC3B</text>
</g>
<g font-size="14" text-anchor="middle">
<text transform="translate(889,768.5) rotate(-90)" textLength="215" lengthAdjust="spacingAndGlyphs">Relative number of LYVE1/D2-40</text>
<text transform="translate(903,750) rotate(-90)" textLength="160" lengthAdjust="spacingAndGlyphs">staining lymphatic vessels</text>
</g>
<g font-size="14" text-anchor="end">
<text x="916" y="683.3">15</text><text x="916" y="734.4">10</text><text x="916" y="785.6">5</text><text x="916" y="836.7">0</text>
</g>
<rect x="936" y="737.6" width="23" height="94.1" fill="#3cb88a"/>
<rect x="963" y="811.2" width="23" height="20.5" fill="#e0525e"/>
<rect x="995" y="817.4" width="23" height="14.3" fill="#3c3a78"/>
<rect x="1021" y="757.1" width="24" height="74.6" fill="#e8764a"/>
<g stroke="#000" stroke-width="2" fill="none">
<path d="M947.5,737.6 V715.2 M940.5,715.2 H954.5"/>
<path d="M974.5,811.2 V801.5 M967.5,801.5 H981.5"/>
<path d="M1006.5,817.4 V814.8 M999.5,814.8 H1013.5"/>
<path d="M1033,757.1 V745.8 M1026,745.8 H1040"/>
<line x1="921" y1="677.5" x2="921" y2="832.5"/><line x1="920" y1="831.7" x2="1050" y2="831.7"/>
<path d="M916,678.3 H921 M916,729.4 H921 M916,780.6 H921 M916,831.7 H921 M961,831.7 V836.5 M1020,831.7 V836.5"/>
<line x1="945" y1="706" x2="970" y2="706" stroke-width="1.5"/><line x1="1007" y1="739.3" x2="1033" y2="739.3"/>
</g>
<g font-size="20" text-anchor="middle"><text x="958" y="711">*</text><text x="1020" y="744.5">*</text></g>
<g font-size="14" text-anchor="middle"><text x="962" y="850" textLength="33" lengthAdjust="spacingAndGlyphs">HSC3</text><text x="1017" y="850" textLength="43" lengthAdjust="spacingAndGlyphs">CAL27</text></g>
</svg>
</body></html>
